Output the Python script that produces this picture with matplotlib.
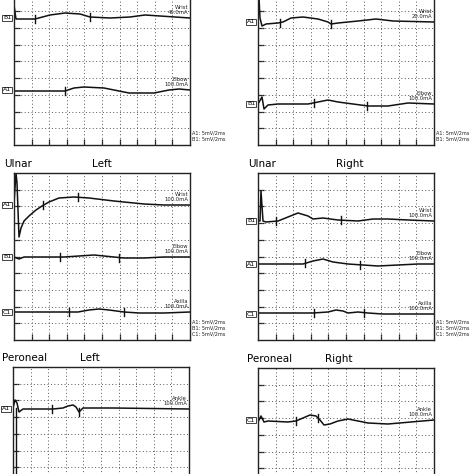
import matplotlib
matplotlib.use("Agg")
import matplotlib.pyplot as plt
import numpy as np

# panel geometry in pixels of the 474px figure: left, top (width 176, height 167)
PW, PH = 176, 167

# --- traces: x, y in pixels relative to the panel's top-left corner ---
tl_b1_x = [0, 2, 6, 21, 36, 51, 66, 76, 96, 116, 131, 146, 176]
tl_b1_y = [27, 41, 41, 41, 37, 35, 36, 39, 40, 39, 37, 38, 40]
tl_a1_x = [0, 30, 51, 60, 70, 90, 105, 115, 140, 155, 165, 176]
tl_a1_y = [113, 113, 113, 110, 109, 110, 113, 115, 115, 112, 111, 112]

tr_a1_x = [0, 2, 4, 8, 20, 25, 33, 45, 60, 70, 73, 80, 100, 118, 135, 176]
tr_a1_y = [0, 40, 48, 46, 45, 44, 40, 39, 41, 44, 46, 45, 43, 41, 43, 44]
tr_b1_x = [0, 4, 6, 10, 20, 50, 60, 70, 80, 95, 110, 130, 150, 176]
tr_b1_y = [126, 119, 131, 127, 126, 126, 124, 122, 124, 126, 128, 128, 125, 126]

ml_a1_x = [0, 2, 3, 5, 7, 10, 15, 22, 28, 35, 45, 60, 75, 100, 130, 150, 176]
ml_a1_y = [30, 0, 10, 64, 55, 48, 43, 37, 33, 29, 25, 24, 25, 28, 31, 32, 32]
ml_b1_x = [0, 5, 10, 50, 65, 80, 100, 110, 130, 150, 176]
ml_b1_y = [84, 86, 84, 84, 83, 82, 84, 85, 85, 84, 84]
ml_c1_x = [0, 64, 75, 85, 95, 110, 125, 150, 176]
ml_c1_y = [139, 139, 137, 136, 137, 139, 140, 140, 139]

mr_b1_x = [0, 2, 3, 5, 8, 20, 30, 40, 50, 55, 65, 80, 100, 115, 130, 150, 176]
mr_b1_y = [48, 48, 18, 48, 49, 48, 44, 40, 43, 46, 45, 47, 48, 46, 46, 47, 48]
mr_a1_x = [0, 45, 55, 65, 75, 90, 105, 120, 140, 160, 176]
mr_a1_y = [91, 91, 88, 86, 89, 91, 92, 93, 92, 91, 91]
mr_c1_x = [0, 55, 70, 78, 85, 90, 100, 110, 125, 176]
mr_c1_y = [140, 140, 139, 137, 138, 140, 139, 140, 141, 141]

bl_a1_x = [0, 2, 4, 6, 10, 30, 40, 50, 55, 60, 63, 66, 70, 100, 176]
bl_a1_y = [41, 33, 36, 45, 42, 42, 42, 41, 39, 38, 40, 45, 41, 41, 42]
bl_artifact_x = [3, 3]
bl_artifact_y = [41, 167]
br_c1_x = [0, 3, 6, 10, 30, 38, 45, 52, 58, 62, 66, 72, 80, 90, 100, 110, 130, 176]
br_c1_y = [54, 48, 54, 53, 54, 53, 50, 47, 48, 52, 57, 56, 53, 51, 53, 55, 56, 52]

panels = [
    dict(left=14, top=-22,
         traces=[("B1", tl_b1_x, tl_b1_y, [21, 76], "Wrist\n40.0mA"),
                 ("A1", tl_a1_x, tl_a1_y, [51], "Elbow\n100.0mA")],
         scales=["A1: 5mV/2ms", "B1: 5mV/2ms"]),
    dict(left=258, top=-22,
         traces=[("A1", tr_a1_x, tr_a1_y, [22, 73], "Wrist\n20.0mA"),
                 ("B1", tr_b1_x, tr_b1_y, [56, 109], "Elbow\n100.0mA")],
         scales=["A1: 5mV/2ms", "B1: 5mV/2ms"]),
    dict(left=14, top=173, title=("Ulnar", "Left"),
         traces=[("A1", ml_a1_x, ml_a1_y, [29, 64], "Wrist\n100.0mA"),
                 ("B1", ml_b1_x, ml_b1_y, [46, 105], "Elbow\n100.0mA"),
                 ("C1", ml_c1_x, ml_c1_y, [55, 110], "Axilla\n100.0mA")],
         scales=["A1: 5mV/2ms", "B1: 5mV/2ms", "C1: 5mV/2ms"]),
    dict(left=258, top=173, title=("Ulnar", "Right"),
         traces=[("B1", mr_b1_x, mr_b1_y, [18, 83], "Wrist\n100.0mA"),
                 ("A1", mr_a1_x, mr_a1_y, [47, 102], "Elbow\n100.0mA"),
                 ("C1", mr_c1_x, mr_c1_y, [56, 106], "Axilla\n100.0mA")],
         scales=["A1: 5mV/2ms", "B1: 5mV/2ms", "C1: 5mV/2ms"]),
    dict(left=13, top=367, title=("Peroneal", "Left"),
         traces=[("A1", bl_a1_x, bl_a1_y, [39, 66], "Ankle\n100.0mA")],
         extra=(bl_artifact_x, bl_artifact_y),
         scales=[]),
    dict(left=258, top=368, title=("Peroneal", "Right"),
         traces=[("C1", br_c1_x, br_c1_y, [38, 60], "Ankle\n100.0mA")],
         scales=[]),
]

fig = plt.figure(figsize=(4.74, 4.74), dpi=100)
S = 474.0

for p in panels:
    ax = fig.add_axes([p["left"] / S, 1 - (p["top"] + PH) / S, PW / S, PH / S])
    ax.set_xlim(0, PW)
    ax.set_ylim(PH, 0)
    xt = np.linspace(0, PW, 11)[1:-1]
    yt = np.linspace(0, PH, 11)[1:-1]
    for x in xt:
        ax.axvline(x, color="#555555", lw=0.7, ls=(0, (1, 2.5)))
    for y in yt:
        ax.axhline(y, color="#555555", lw=0.7, ls=(0, (1, 2.5)))
    ax.set_xticks(xt)
    ax.set_yticks(yt)
    ax.tick_params(direction="in", length=4, width=0.9, color="#222222",
                   labelbottom=False, labelleft=False)
    for s in ax.spines.values():
        s.set_linewidth(1.0)
        s.set_color("#222222")

    if "extra" in p:
        ax.plot(p["extra"][0], p["extra"][1], color="#111111", lw=1.0)

    for name, xs, ys, cursors, note in p["traces"]:
        ax.plot(xs, ys, color="#111111", lw=1.1, solid_joinstyle="round")
        base = ys[-1]
        for c in cursors:
            yc = np.interp(c, xs, ys)
            ax.plot([c, c], [yc - 4, yc + 4], color="#111111", lw=1.0)
        ax.text(-3, base, name, fontsize=4.5, ha="right", va="center",
                clip_on=False,
                bbox=dict(boxstyle="square,pad=0.15", fc="white", ec="#222222", lw=0.6))
        ax.text(PW - 2, base - 3, note, fontsize=3.8, ha="right", va="bottom",
                linespacing=1.0, color="#222222")

    for i, s in enumerate(p["scales"]):
        ax.text(PW + 2, PH - 12 + i * 6 - (len(p["scales"]) - 2) * 6, s,
                fontsize=3.6, ha="left", va="center", clip_on=False, color="#222222")

    if "title" in p:
        ax.text(-10 if p["title"][0] == "Ulnar" else -11, -9, p["title"][0],
                fontsize=7.5, ha="left", va="center", clip_on=False)
        ax.text(78 if p["title"][0] == "Ulnar" else 67, -9, p["title"][1],
                fontsize=7.5, ha="left", va="center", clip_on=False)

fig.savefig("out.png", dpi=100)
